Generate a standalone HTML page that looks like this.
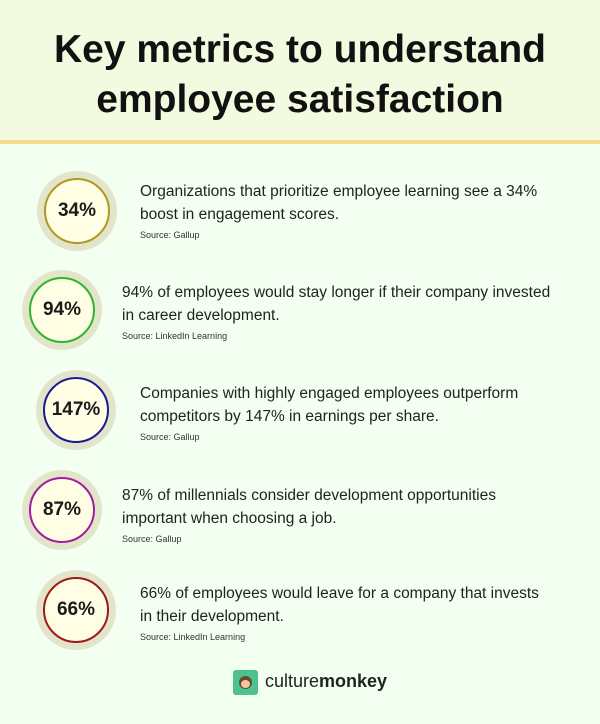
<!DOCTYPE html>
<html><head><style>
body{margin:0;width:600px;height:724px;background:#f3fff1;font-family:"Liberation Sans",sans-serif;position:relative;overflow:hidden;color:#222}
.hd{position:absolute;left:0;top:0;width:600px;height:140px;background:#f2fbdf;border-bottom:4px solid #f6d98c}
.hd h1{margin:0;position:absolute;top:25px;width:600px;text-align:center;font-size:39px;line-height:50px;font-weight:bold;color:#111}
.c{position:absolute;width:80px;height:80px;border-radius:50%;background:#e3e5cb}
.c div{position:absolute;left:7px;top:7px;width:62px;height:62px;border-radius:50%;border:2px solid;background:#fffde4;text-align:center;line-height:62px;font-weight:bold;font-size:19px;color:#1a1a1a}
.t{position:absolute;font-size:15.5px;line-height:23px;color:#222}
.t small{display:block;font-size:9px;line-height:14px;margin-top:2px;color:#333}
</style></head><body>
<div class="hd"><h1>Key metrics to understand<br>employee satisfaction</h1></div>

<div class="c" style="left:37px;top:171px"><div style="border-color:#b09a1e">34%</div></div>
<div class="t" style="left:140px;top:180px">Organizations that prioritize employee learning see a 34%<br>boost in engagement scores.<small>Source: Gallup</small></div>

<div class="c" style="left:22px;top:270px"><div style="border-color:#2db52d">94%</div></div>
<div class="t" style="left:122px;top:281px">94% of employees would stay longer if their company invested<br>in career development.<small>Source: LinkedIn Learning</small></div>

<div class="c" style="left:36px;top:370px"><div style="border-color:#1a1a95">147%</div></div>
<div class="t" style="left:140px;top:382px">Companies with highly engaged employees outperform<br>competitors by 147% in earnings per share.<small>Source: Gallup</small></div>

<div class="c" style="left:22px;top:470px"><div style="border-color:#a01ea0">87%</div></div>
<div class="t" style="left:122px;top:484px">87% of millennials consider development opportunities<br>important when choosing a job.<small>Source: Gallup</small></div>

<div class="c" style="left:36px;top:570px"><div style="border-color:#9e1a1a">66%</div></div>
<div class="t" style="left:140px;top:582px">66% of employees would leave for a company that invests<br>in their development.<small>Source: LinkedIn Learning</small></div>

<div style="position:absolute;left:233px;top:670px;width:25px;height:25px;border-radius:3px;background:#4dc28e"><div style="position:absolute;left:6px;top:6px;width:13px;height:13px;border-radius:50%;background:#6b4a2a"><div style="position:absolute;left:2px;top:4px;width:9px;height:8px;border-radius:50%;background:#f0c9a0"></div></div></div>
<div style="position:absolute;left:265px;top:671px;font-size:18px;color:#222">culture<b>monkey</b></div>
</body></html>
